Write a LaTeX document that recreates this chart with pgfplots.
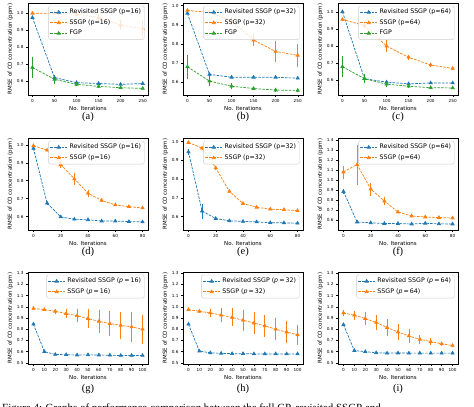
\documentclass[border=0pt]{standalone}
\usepackage{fontspec}
\setmainfont{Liberation Serif}
\setsansfont{DejaVu Sans}
\usepackage{pgfplots}
\pgfplotsset{compat=1.18}
\definecolor{tblue}{HTML}{1F77B4}
\definecolor{torange}{HTML}{FF7F0E}
\definecolor{tgreen}{HTML}{2CA02C}
\pgfplotsset{
  panel/.style={
    scale only axis, width=120bp, height=92bp,
    axis line style={line width=0.5bp},
    tick align=outside, xtick pos=left, ytick pos=left,
    major tick length=2bp,
    every tick/.style={black, line width=0.4bp},
    tick label style={font=\sffamily\fontsize{4.2}{5}\selectfont},
    /pgf/number format/assume math mode=true,
    label style={font=\sffamily\fontsize{5.5}{6}\selectfont},
    xlabel={No. Iterations},
    ylabel={RMSE of CO concentration (ppm)},
    xlabel style={yshift=3.5bp},
    ylabel style={yshift=-3bp},
    xticklabel style={yshift=1bp},
    yticklabel style={xshift=1bp,/pgf/number format/.cd, fixed, fixed zerofill, precision=1},
    legend cell align=left,
    legend style={at={(0.97,0.97)}, anchor=north east, font=\sffamily\fontsize{6.3}{7.5}\selectfont,
      draw=black!20, rounded corners=1.5bp, fill=white, fill opacity=0.8, text opacity=1,
      inner sep=1.2bp, row sep=0.3bp},
  },
  ser/.style={#1, dashed, dash pattern=on 2.6bp off 1.2bp, line width=0.7bp, mark=triangle*, mark size=1.8bp,
    mark options={solid},
    error bars/y dir=both, error bars/y explicit,
    error bars/error bar style={solid, line width=0.7bp}, error bars/error mark=none},
}
\begin{document}
\begin{tikzpicture}
\useasboundingbox (0,0) rectangle (474bp,-407bp);
% ---------- (a)
\begin{axis}[panel, at={(28bp,-3bp)}, anchor=north west,
  xmin=-10, xmax=262, ymin=0.517, ymax=1.061, xtick={0,50,...,250}, ytick={0.6,0.7,0.8,0.9,1.0}]
\addplot[ser=tblue] table[x=x,y=y,y error=e] {
x y e
0 0.975 0.005
50 0.62 0.01
100 0.59 0.008
150 0.585 0.005
200 0.58 0.005
250 0.585 0.005
};
\addlegendentry{Revisited SSGP (p=16)}
\addplot[ser=torange] table[x=x,y=y,y error=e] {
x y e
0 1.0 0.005
50 1.0 0.005
100 0.995 0.01
150 0.975 0.02
200 0.93 0.03
250 0.91 0.05
};
\addlegendentry{SSGP (p=16)}
\addplot[ser=tgreen] table[x=x,y=y,y error=e] {
x y e
0 0.68 0.063
50 0.61 0.025
100 0.58 0.012
150 0.568 0.01
200 0.56 0.008
250 0.556 0.006
};
\addlegendentry{FGP}
\end{axis}
% ---------- (b)
\begin{axis}[panel, at={(183bp,-3bp)}, anchor=north west,
  xmin=-10, xmax=262, ymin=0.532, ymax=1.014, xtick={0,50,...,250}, ytick={0.6,0.7,0.8,0.9,1.0}]
\addplot[ser=tblue] table[x=x,y=y,y error=e] {
x y e
0 0.96 0.005
50 0.64 0.008
100 0.625 0.006
150 0.625 0.005
200 0.625 0.005
250 0.62 0.005
};
\addlegendentry{Revisited SSGP (p=32)}
\addplot[ser=torange] table[x=x,y=y,y error=e] {
x y e
0 0.975 0.005
50 0.965 0.01
100 0.92 0.02
150 0.82 0.03
200 0.76 0.055
250 0.74 0.06
};
\addlegendentry{SSGP (p=32)}
\addplot[ser=tgreen] table[x=x,y=y,y error=e] {
x y e
0 0.68 0.063
50 0.605 0.028
100 0.578 0.015
150 0.566 0.01
200 0.558 0.008
250 0.556 0.006
};
\addlegendentry{FGP}
\end{axis}
% ---------- (c)
\begin{axis}[panel, at={(338bp,-3bp)}, anchor=north west,
  xmin=-10, xmax=262, ymin=0.515, ymax=1.051, xtick={0,50,...,250}, ytick={0.6,0.7,0.8,0.9,1.0}]
\addplot[ser=tblue] table[x=x,y=y,y error=e] {
x y e
0 1.0 0.01
50 0.61 0.01
100 0.59 0.008
150 0.58 0.005
200 0.585 0.005
250 0.585 0.005
};
\addlegendentry{Revisited SSGP (p=64)}
\addplot[ser=torange] table[x=x,y=y,y error=e] {
x y e
0 0.955 0.01
50 0.92 0.02
100 0.80 0.035
150 0.735 0.015
200 0.69 0.01
250 0.67 0.008
};
\addlegendentry{SSGP (p=64)}
\addplot[ser=tgreen] table[x=x,y=y,y error=e] {
x y e
0 0.68 0.063
50 0.61 0.025
100 0.578 0.014
150 0.566 0.01
200 0.558 0.008
250 0.556 0.006
};
\addlegendentry{FGP}
\end{axis}
% ---------- (d)
\begin{axis}[panel, at={(28bp,-138bp)}, anchor=north west,
  xmin=-4, xmax=84, ymin=0.525, ymax=1.038, xtick={0,20,...,80}, ytick={0.6,0.7,0.8,0.9,1.0}]
\addplot[ser=tblue] table[x=x,y=y,y error=e] {
x y e
0 0.98 0.005
10 0.675 0.008
20 0.598 0.005
30 0.585 0.004
40 0.582 0.004
50 0.575 0.004
60 0.575 0.004
70 0.572 0.004
80 0.57 0.004
};
\addlegendentry{Revisited SSGP (p=16)}
\addplot[ser=torange] table[x=x,y=y,y error=e] {
x y e
0 0.995 0.005
10 0.97 0.005
20 0.89 0.022
30 0.81 0.035
40 0.73 0.02
50 0.69 0.01
60 0.665 0.008
70 0.655 0.008
80 0.648 0.008
};
\addlegendentry{SSGP (p=16)}
\end{axis}
% ---------- (e)
\begin{axis}[panel, at={(183bp,-138bp)}, anchor=north west,
  xmin=-4, xmax=84, ymin=0.529, ymax=1.019, xtick={0,20,...,80}, ytick={0.6,0.7,0.8,0.9,1.0}]
\addplot[ser=tblue] table[x=x,y=y,y error=e] {
x y e
0 0.945 0.015
10 0.63 0.04
20 0.59 0.008
30 0.578 0.005
40 0.575 0.004
50 0.572 0.004
60 0.568 0.004
70 0.567 0.004
80 0.565 0.004
};
\addlegendentry{Revisited SSGP (p=32)}
\addplot[ser=torange] table[x=x,y=y,y error=e] {
x y e
0 0.995 0.005
10 0.965 0.008
20 0.86 0.01
30 0.735 0.008
40 0.67 0.006
50 0.65 0.005
60 0.64 0.005
70 0.637 0.005
80 0.632 0.005
};
\addlegendentry{SSGP (p=32)}
\end{axis}
% ---------- (f)
\begin{axis}[panel, at={(338bp,-138bp)}, anchor=north west,
  xmin=-4, xmax=84, ymin=0.5, ymax=1.42, xtick={0,20,...,80}, ytick={0.6,0.7,...,1.4}]
\addplot[ser=tblue] table[x=x,y=y,y error=e] {
x y e
0 0.885 0.025
10 0.58 0.006
20 0.572 0.005
30 0.565 0.005
40 0.565 0.005
50 0.56 0.005
60 0.567 0.005
70 0.562 0.005
80 0.56 0.005
};
\addlegendentry{Revisited SSGP (p=64)}
\addplot[ser=torange] table[x=x,y=y,y error=e] {
x y e
0 1.08 0.065
10 1.155 0.2
20 0.91 0.065
30 0.79 0.04
40 0.68 0.012
50 0.64 0.008
60 0.63 0.008
70 0.625 0.006
80 0.62 0.006
};
\addlegendentry{SSGP (p=64)}
\end{axis}
% ---------- (g)
\begin{axis}[panel, at={(28bp,-272bp)}, anchor=north west,
  xmin=-5, xmax=105, ymin=0.49, ymax=1.31, xtick={0,10,...,100}, ytick={0.5,0.6,...,1.3}]
\addplot[ser=tblue] table[x=x,y=y,y error=e] {
x y e
0 0.845 0.005
10 0.6 0.005
20 0.575 0.004
30 0.573 0.004
40 0.57 0.004
50 0.572 0.004
60 0.57 0.004
70 0.568 0.004
80 0.566 0.004
90 0.566 0.004
100 0.566 0.004
};
\addlegendentry{Revisited SSGP ({\itshape p}\,=\,16)}
\addplot[ser=torange] table[x=x,y=y,y error=e] {
x y e
0 0.985 0.01
10 0.975 0.012
20 0.96 0.022
30 0.94 0.04
40 0.92 0.06
50 0.895 0.085
60 0.87 0.1
70 0.85 0.11
80 0.835 0.12
90 0.82 0.13
100 0.80 0.13
};
\addlegendentry{SSGP ({\itshape p}\,=\,16)}
\end{axis}
% ---------- (h)
\begin{axis}[panel, at={(183bp,-272bp)}, anchor=north west,
  xmin=-5, xmax=105, ymin=0.49, ymax=1.31, xtick={0,10,...,100}, ytick={0.5,0.6,...,1.3}]
\addplot[ser=tblue] table[x=x,y=y,y error=e] {
x y e
0 0.845 0.005
10 0.605 0.005
20 0.59 0.004
30 0.585 0.004
40 0.582 0.004
50 0.582 0.004
60 0.58 0.004
70 0.58 0.004
80 0.58 0.004
90 0.58 0.004
100 0.58 0.004
};
\addlegendentry{Revisited SSGP ({\itshape p}\,=\,32)}
\addplot[ser=torange] table[x=x,y=y,y error=e] {
x y e
0 0.975 0.01
10 0.96 0.015
20 0.945 0.035
30 0.925 0.06
40 0.905 0.08
50 0.88 0.095
60 0.855 0.095
70 0.83 0.095
80 0.80 0.1
90 0.775 0.1
100 0.75 0.09
};
\addlegendentry{SSGP ({\itshape p}\,=\,32)}
\end{axis}
% ---------- (i)
\begin{axis}[panel, at={(338bp,-272bp)}, anchor=north west,
  xmin=-5, xmax=105, ymin=0.49, ymax=1.31, xtick={0,10,...,100}, ytick={0.5,0.6,...,1.3}]
\addplot[ser=tblue] table[x=x,y=y,y error=e] {
x y e
0 0.84 0.005
10 0.61 0.005
20 0.6 0.004
30 0.59 0.004
40 0.587 0.004
50 0.588 0.004
60 0.587 0.004
70 0.587 0.004
80 0.587 0.004
90 0.587 0.004
100 0.587 0.004
};
\addlegendentry{Revisited SSGP ({\itshape p}\,=\,64)}
\addplot[ser=torange] table[x=x,y=y,y error=e] {
x y e
0 0.945 0.03
10 0.925 0.04
20 0.895 0.06
30 0.86 0.07
40 0.815 0.075
50 0.775 0.07
60 0.74 0.06
70 0.71 0.04
80 0.69 0.03
90 0.67 0.02
100 0.655 0.015
};
\addlegendentry{SSGP ({\itshape p}\,=\,64)}
\end{axis}
% ---------- subcaptions
\foreach \lab/\cx/\cy in {a/88/117, b/243/117, c/398/117, d/88/252, e/243/252, f/398/252, g/88/388.5, h/243/388.5, i/398/388.5}
  \node[font=\fontsize{10.5}{12}\selectfont, inner sep=0pt] at (\cx bp,-\cy bp) {(\lab)};
\node[anchor=base west, font=\fontsize{11}{13}\selectfont, inner sep=0pt] at (2bp,-411.5bp)
  {Figure 4: Graphs of performance comparison between the full GP, revisited SSGP and};
\end{tikzpicture}
\end{document}
